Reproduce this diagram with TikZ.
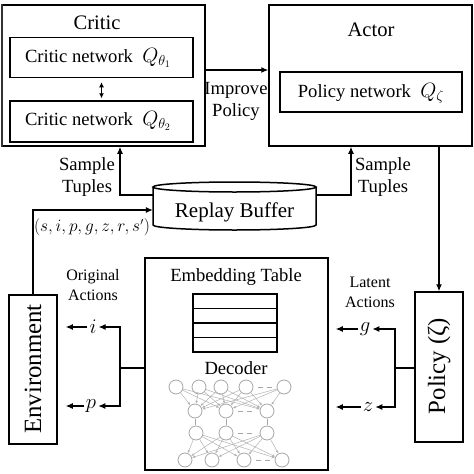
\documentclass[tikz,border=0pt]{standalone}
\usepackage{fontspec}
\setmainfont{Liberation Serif}
\usetikzlibrary{arrows.meta}
\begin{document}
\begin{tikzpicture}[x=1pt,y=-1pt,
  box/.style={draw, line width=1.5pt, inner sep=0pt, rectangle},
  arr/.style={line width=1.1pt, -{Latex[length=7pt,width=6pt]}},
  dbl/.style={line width=1.3pt, {Latex[length=5pt,width=5pt]}-{Latex[length=5pt,width=5pt]}},
  ln/.style={line width=1.1pt},
  txt/.style={font=\fontsize{18.6pt}{22pt}\selectfont, inner sep=0pt, align=center},
  ttl/.style={font=\fontsize{20.6pt}{24pt}\selectfont, inner sep=0pt},
  small/.style={font=\fontsize{16pt}{20pt}\selectfont, inner sep=0pt, align=center},
  big/.style={font=\fontsize{24.8pt}{28pt}\selectfont, inner sep=0pt, rotate=90},
  var/.style={font=\fontsize{22pt}{26pt}\selectfont, inner sep=2pt},
  neu/.style={draw=gray!70, line width=0.8pt, circle, minimum size=14pt, inner sep=0pt},
  nl/.style={draw=gray!60, line width=0.5pt, -{Latex[length=3pt,width=2.5pt]}},
  dsh/.style={draw=gray!70, line width=0.8pt}
]
\newcommand{\bigmath}[1]{{\fontsize{20.5pt}{24pt}\selectfont$#1$}}
\useasboundingbox (0,0) rectangle (474,474);

% Critic
\node[box, minimum width=203pt, minimum height=141pt] (critic) at (103.5,75.5) {};
\draw[line width=2.6pt, black!80] (2,4.3) -- (2,146.7);
\node[ttl] (critictitle) at (97,23) {Critic};
\node[box, minimum width=183pt, minimum height=40pt] (cn1) at (101.5,57.5) {};
\node[txt] (cn1t) at (98,58) {Critic network\ \ \bigmath{Q_{\theta_1}}};
\node[box, minimum width=183pt, minimum height=41pt] (cn2) at (101.5,121.5) {};
\node[txt] (cn2t) at (98,121) {Critic network\ \ \bigmath{Q_{\theta_2}}};
\draw[dbl] ([yshift=-4pt]cn1.south) -- ([yshift=2pt]cn2.north);

% Actor
\node[box, minimum width=203pt, minimum height=141pt] (actor) at (370.5,75.5) {};
\node[ttl] (actortitle) at (371,30) {Actor};
\node[box, minimum width=182pt, minimum height=40pt] (pn) at (371,92) {};
\node[txt] (pnt) at (371,93) {Policy network\ \ \bigmath{Q_{\zeta}}};

% Improve policy
\draw[arr] ([yshift=5.5pt]critic.east) -- ([yshift=5.5pt]actor.west);
\node[txt] (impr) at (236,101) {Improve\\Policy};

% Replay buffer
\draw[line width=1.5pt] (153,187) -- (153,225) arc[start angle=180,end angle=360,x radius=81.5pt,y radius=5pt] -- (316,187);
\draw[line width=1.5pt] (234.5,187) ellipse [x radius=81.5pt, y radius=5pt];
\node[minimum width=163pt, minimum height=48pt, inner sep=0pt] (buffer) at (234.5,206) {};
\node[font=\fontsize{21pt}{24pt}\selectfont, inner sep=0pt] (buflabel) at (234.5,212) {Replay Buffer};

% Sample tuples
\draw[arr] ([yshift=11pt]buffer.west) -| ([xshift=16.5pt]critic.south);
\draw[arr] ([yshift=11pt]buffer.east) -| ([xshift=-19.5pt]actor.south);
\node[txt] (st1) at (87,177) {Sample\\Tuples};
\node[txt] (st2) at (383,177) {Sample\\Tuples};

% Environment
\node[box, minimum width=48pt, minimum height=149pt] (env) at (33,369.5) {};
\node[big] (envt) at (33,369) {Environment};

% Policy
\node[box, minimum width=48pt, minimum height=150pt] (policy) at (439,367) {};
\node[big] (policyt) at (439,366) {Policy (ζ)};

% actor -> policy
\draw[arr] (actor.south -| policy.north) -- (policy.north);

% tuple to buffer
\draw[arr] (env.north) |- ([yshift=-4pt]buffer.west);
\node[font=\fontsize{16pt}{20pt}\selectfont, inner sep=0pt] (tup) at (92,227) {$(s,i,p,g,z,r,s')$};

% Center box
\node[box, minimum width=183pt, minimum height=212pt] (cbox) at (236.5,364) {};
\node[txt] (embt) at (236,277) {Embedding Table};
\draw[line width=1.2pt] (193,294) rectangle (277,352);
\draw[line width=1.2pt] (193,308.5) -- (277,308.5) (193,323) -- (277,323) (193,337.5) -- (277,337.5);
\node[txt] (dect) at (236,368) {Decoder};

% Neural network
\foreach \n/\x in {1/176,2/199,3/221,4/246,5/284} \node[neu] (a\n) at (\x,387) {};
\foreach \n/\x in {1/195,2/226,3/267} \node[neu] (b\n) at (\x,411) {};
\foreach \n/\x in {1/196,2/226,3/267} \node[neu] (c\n) at (\x,433) {};
\foreach \n/\x in {1/185,2/212,3/244,4/282} \node[neu] (d\n) at (\x,460) {};
\foreach \i in {1,...,5} \foreach \j in {1,2,3} \draw[nl] (a\i) -- (b\j);
\foreach \i in {1,2,3} \foreach \j in {1,...,4} \draw[nl] (c\i) -- (d\j);
\foreach \x in {195,226,267} \draw[dsh] (\x,419) -- (\x,425);
\draw[dsh] (258,387) -- (263,387) (267,387) -- (272,387);
\draw[dsh] (238,411) -- (243,411) (247,411) -- (252,411);
\draw[dsh] (238,433) -- (243,433) (247,433) -- (252,433);
\draw[dsh] (256,460) -- (261,460) (265,460) -- (270,460);

% Original actions
\node[small] (orig) at (93,285) {Original\\Actions};
\node[var] (i) at (93,327) {$i$};
\node[var] (p) at (91,406) {$p$};
\coordinate (bl) at (120,368);
\draw[ln] (bl) -- (bl -| cbox.west);
\draw[arr] (bl) |- (i.east);
\draw[arr] (bl) |- (p.east);
\draw[arr, shorten >=8pt] (i.west) -- (i.west -| env.east);
\draw[arr, shorten >=8pt] (p.west) -- (p.west -| env.east);

% Latent actions
\node[small] (lat) at (370,292) {Latent\\Actions};
\node[var] (g) at (365,329) {$g$};
\node[var] (z) at (368,407) {$z$};
\coordinate (br) at (395,368);
\draw[ln] (br) -- (br -| policy.west);
\draw[arr] (br) |- (g.east);
\draw[arr] (br) |- (z.east);
\draw[arr, shorten >=7pt] (g.west) -- (g.west -| cbox.east);
\draw[arr, shorten >=7pt] (z.west) -- (z.west -| cbox.east);
\end{tikzpicture}
\end{document}
